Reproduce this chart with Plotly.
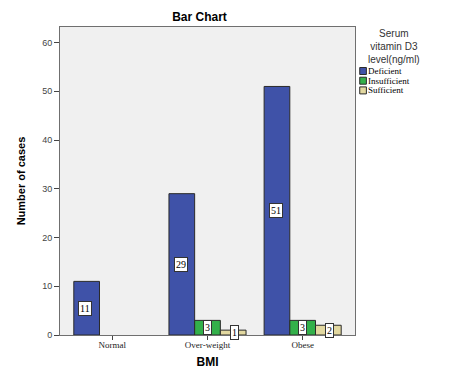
import plotly.graph_objects as go

categories = ["Normal", "Over-weight", "Obese"]
series_names = ["Deficient", "Insufficient", "Sufficient"]
deficient = [11, 29, 51]
insufficient = [None, 3, 3]
sufficient = [None, 1, 2]
y_ticks = [0, 10, 20, 30, 40, 50, 60]
legend_title = "Serum<br>vitamin D3<br>level(ng/ml)"

series_values = [deficient, insufficient, sufficient]
colors = ["#3F52A8", "#33B04A", "#E2D8A0"]

# page body has an 8px margin, so work in a shifted frame
OFF = 8
W, H = 474 - OFF, 379 - OFF
L, R, T, B = 44 - OFF, 355 - OFF, 27 - OFF, 335 - OFF
pw, ph = R - L, B - T

def px_x(px):
    return (px - OFF - L) / pw

def px_y(py):
    return (B - (py - OFF)) / ph

fig = go.Figure()
for name, vals, col in zip(series_names, series_values, colors):
    fig.add_trace(go.Bar(
        x=categories, y=vals, name=name,
        marker=dict(color=col, line=dict(color="#2a2a2a", width=1)),
        hoverinfo="x+y+name",
    ))

annotations = []
bar_px = 27
for s, vals in enumerate(series_values):
    for c, v in zip(categories, vals):
        if v:
            annotations.append(dict(
                x=c, y=v / 2, xref="x", yref="y", text=str(v), showarrow=False,
                xshift=(s - 1) * bar_px,
                font=dict(family="Liberation Serif", size=10, color="black"),
                bgcolor="white", bordercolor="#333333", borderwidth=1, borderpad=1,
            ))

# custom legend (coordinates given in reference-picture pixels)
annotations.append(dict(
    x=px_x(396), y=px_y(46.5), xref="paper", yref="paper", text=legend_title,
    showarrow=False, xanchor="center", yanchor="middle", align="center",
    borderpad=0,
    font=dict(family="Liberation Sans", size=10, color="#333"),
))
shapes = []
for i, (name, col) in enumerate(zip(series_names, colors)):
    cy = 71 + i * 9.7
    shapes.append(dict(
        type="rect", xref="paper", yref="paper",
        x0=px_x(360), x1=px_x(367), y0=px_y(cy + 3.5), y1=px_y(cy - 3.5),
        fillcolor=col, line=dict(color="#2a2a2a", width=1),
    ))
    annotations.append(dict(
        x=px_x(368), y=px_y(cy), xref="paper", yref="paper", text=name,
        showarrow=False, xanchor="left", yanchor="middle", borderpad=0,
        font=dict(family="Liberation Serif", size=9, color="black"),
    ))

fig.update_layout(
    width=W, height=H,
    margin=dict(l=L, r=W - R, t=T, b=H - B),
    paper_bgcolor="white", plot_bgcolor="#F0F0F0",
    barmode="group", bargap=0.19, bargroupgap=0,
    title=dict(text="<b>Bar Chart</b>", x=(L + R) / 2 / W, xanchor="center",
               y=1 - (17 - OFF) / H, yanchor="middle",
               font=dict(family="Liberation Sans", size=12, color="black")),
    showlegend=False,
    annotations=annotations,
    shapes=shapes,
    xaxis=dict(
        range=[-0.55, 2.55], showline=True, mirror=True, linecolor="#6f6f6f", linewidth=1,
        ticks="outside", ticklen=4, tickcolor="#444", ticklabelstandoff=-3,
        tickfont=dict(family="Liberation Serif", size=9, color="#222"),
        title=dict(text="<b>BMI</b>", font=dict(family="Liberation Sans", size=12, color="black"), standoff=8),
        showgrid=False,
    ),
    yaxis=dict(
        range=[0, 63.2], tickvals=y_ticks, showline=True, mirror=True, linecolor="#6f6f6f", linewidth=1,
        ticks="outside", ticklen=5, tickcolor="#444",
        tickfont=dict(family="Liberation Sans", size=9, color="#444"),
        title=dict(text="<b>Number of cases</b>", font=dict(family="Liberation Sans", size=11, color="black"), standoff=14),
        showgrid=False, zeroline=False,
    ),
)

fig.write_html("out.html")
